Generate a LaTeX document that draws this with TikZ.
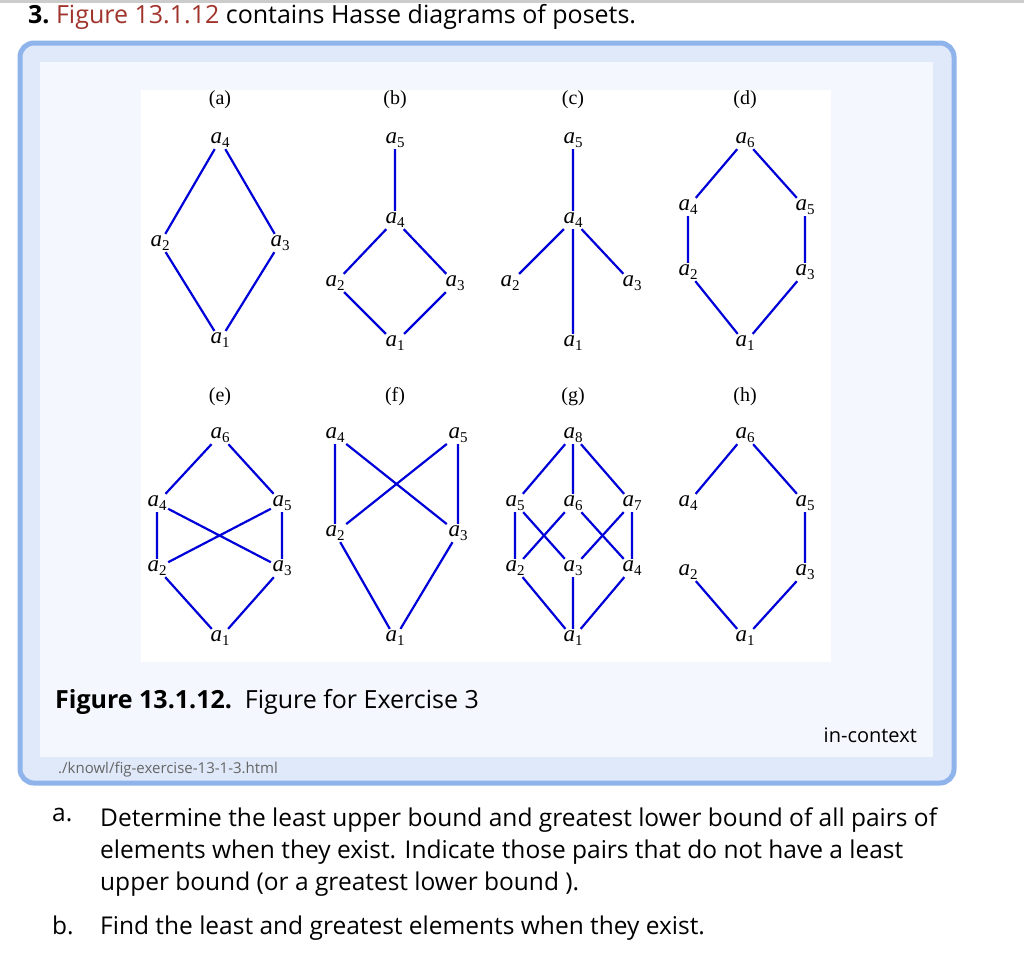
\documentclass[tikz,border=0pt]{standalone}
\usepackage{fontspec}
\setmainfont{Open Sans}
\newfontfamily\timesf{Liberation Serif}
\definecolor{bordc}{RGB}{143,180,236}
\definecolor{outfill}{RGB}{224,233,249}
\definecolor{infill}{RGB}{244,247,254}
\newcommand{\av}[1]{{\timesf\itshape a\raisebox{-4pt}{\upshape\fontsize{15}{15}\selectfont #1}}}
\begin{document}
\begin{tikzpicture}[x=1pt,y=-1pt,
  v/.style={inner sep=1.5pt,font=\fontsize{23}{24}\selectfont},
  lab/.style={font=\timesf\fontsize{20}{22}\selectfont},
  e/.style={draw=blue!85!black,line width=2.2pt},
  body/.style={font=\fontsize{24.5}{32}\selectfont,anchor=north west,align=left,inner sep=0pt}]
\useasboundingbox (0,0) rectangle (1024,959);
\fill[white] (0,0) rectangle (1024,959);
\fill[gray!40] (0,0) rectangle (1024,3);
\node[anchor=west,inner sep=0pt,font=\fontsize{25}{28}\selectfont] (hd) at (28,17) {\textbf{3.}\ \textcolor[HTML]{A0342C}{Figure 13.1.12} contains Hasse diagrams of posets.};
\draw[draw=bordc,line width=5pt,fill=outfill,rounded corners=14pt] (20,43) rectangle (954,783);
\fill[infill] (40,62) rectangle (933,757);
\fill[white] (141,90) rectangle (831,662);
\node[anchor=west,inner sep=0pt,font=\fontsize{25}{26}\selectfont] (cap) at (55,702) {\textbf{Figure 13.1.12.}\ \ Figure for Exercise 3};
\node[anchor=east,inner sep=0pt,font=\fontsize{20}{22}\selectfont] (ic) at (917,735) {in-context};
\node[anchor=west,inner sep=0pt,font=\fontsize{15}{16}\selectfont,text=gray!80!black] (url) at (58,770) {./knowl/fig-exercise-13-1-3.html};
\node[body] (la) at (52,808) {a.};
\node[body] (ta) at (100,808) {Determine the least upper bound and greatest lower bound of all pairs of\\elements when they exist. Indicate those pairs that do not have a least\\upper bound (or a greatest lower bound ).};
\node[body] (lb) at (52,916) {b.};
\node[body] (tb) at (100,916) {Find the least and greatest elements when they exist.};
% (a)
\node[lab] (la1) at (220,100) {(a)};
\node[v] (A4) at (220,140) {\av4};
\node[v] (A2) at (160,243) {\av2};
\node[v] (A3) at (280,243) {\av3};
\node[v] (A1) at (220,340) {\av1};
\draw[e] (A4)--(A2) (A4)--(A3) (A2)--(A1) (A3)--(A1);
% (b)
\node[lab] (lb1) at (395,100) {(b)};
\node[v] (B5) at (395,140) {\av5};
\node[v] (B4) at (395,220) {\av4};
\node[v] (B2) at (335,283) {\av2};
\node[v] (B3) at (455,283) {\av3};
\node[v] (B1) at (395,343) {\av1};
\draw[e] (B5)--(B4) (B4)--(B2) (B4)--(B3) (B2)--(B1) (B3)--(B1);
% (c)
\node[lab] (lc1) at (573,100) {(c)};
\node[v] (C5) at (573,140) {\av5};
\node[v] (C4) at (573,220) {\av4};
\node[v] (C2) at (510,283) {\av2};
\node[v] (C3) at (632,283) {\av3};
\node[v] (C1) at (573,343) {\av1};
\draw[e] (C5)--(C4) (C4)--(C2) (C4)--(C3) (C4)--(C1);
% (d)
\node[lab] (ld1) at (745,100) {(d)};
\node[v] (D6) at (745,140) {\av6};
\node[v] (D4) at (688,207) {\av4};
\node[v] (D5) at (805,207) {\av5};
\node[v] (D2) at (688,272) {\av2};
\node[v] (D3) at (805,272) {\av3};
\node[v] (D1) at (745,343) {\av1};
\draw[e] (D6)--(D4) (D6)--(D5) (D4)--(D2) (D5)--(D3) (D2)--(D1) (D3)--(D1);
% (e)
\node[lab] (le1) at (220,397) {(e)};
\node[v] (E6) at (220,435) {\av6};
\node[v] (E4) at (157,503) {\av4};
\node[v] (E5) at (282,503) {\av5};
\node[v] (E2) at (157,568) {\av2};
\node[v] (E3) at (282,568) {\av3};
\node[v] (E1) at (220,638) {\av1};
\draw[e] (E6)--(E4) (E6)--(E5) (E4)--(E2) (E5)--(E3) (E4)--(E3) (E5)--(E2) (E2)--(E1) (E3)--(E1);
% (f)
\node[lab] (lf1) at (395,397) {(f)};
\node[v] (F4) at (335,435) {\av4};
\node[v] (F5) at (458,435) {\av5};
\node[v] (F2) at (335,533) {\av2};
\node[v] (F3) at (458,533) {\av3};
\node[v] (F1) at (395,638) {\av1};
\draw[e] (F4)--(F2) (F5)--(F3) (F4)--(F3) (F5)--(F2) (F2)--(F1) (F3)--(F1);
% (g)
\node[lab] (lg1) at (573,397) {(g)};
\node[v] (G8) at (573,435) {\av8};
\node[v] (G5) at (515,503) {\av5};
\node[v] (G6) at (573,503) {\av6};
\node[v] (G7) at (632,503) {\av7};
\node[v] (G2) at (515,568) {\av2};
\node[v] (G3) at (573,568) {\av3};
\node[v] (G4) at (632,568) {\av4};
\node[v] (G1) at (573,638) {\av1};
\draw[e] (G8)--(G5) (G8)--(G6) (G8)--(G7) (G5)--(G2) (G5)--(G3) (G6)--(G2) (G6)--(G4) (G7)--(G3) (G7)--(G4) (G2)--(G1) (G3)--(G1) (G4)--(G1);
% (h)
\node[lab] (lh1) at (745,397) {(h)};
\node[v] (H6) at (745,435) {\av6};
\node[v] (H4) at (688,503) {\av4};
\node[v] (H5) at (805,503) {\av5};
\node[v] (H2) at (688,572) {\av2};
\node[v] (H3) at (805,572) {\av3};
\node[v] (H1) at (745,638) {\av1};
\draw[e] (H6)--(H4) (H6)--(H5) (H2)--(H1) (H5)--(H3) (H3)--(H1);
\end{tikzpicture}
\end{document}
